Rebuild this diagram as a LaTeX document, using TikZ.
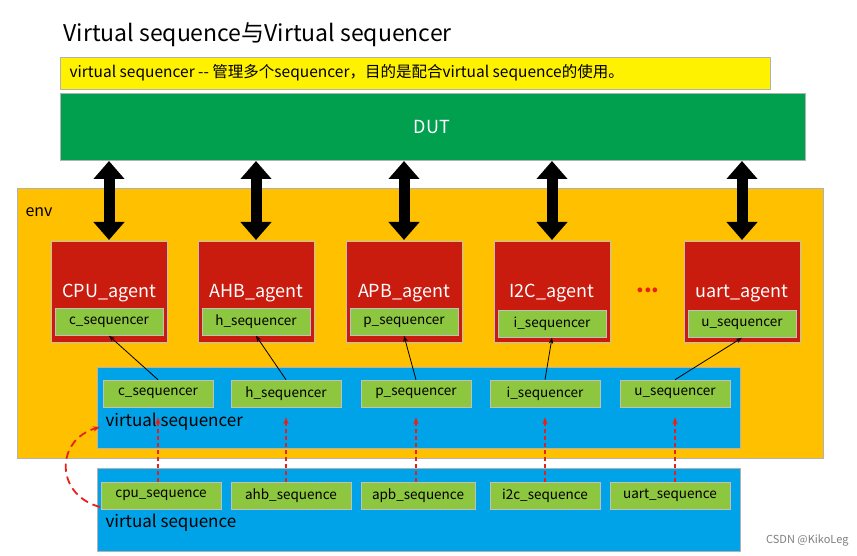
\documentclass[tikz,border=0pt]{standalone}
\usepackage{fontspec}
\setmainfont{Noto Sans CJK SC}
\usetikzlibrary{arrows.meta}
\definecolor{dgreen}{HTML}{00A04E}
\definecolor{org}{HTML}{FFC000}
\definecolor{agred}{HTML}{C91B0E}
\definecolor{lgreen}{HTML}{8DC63F}
\definecolor{sky}{HTML}{00A2E8}
\definecolor{dred}{HTML}{E8201A}
\begin{document}
\begin{tikzpicture}[x=1pt,y=-1pt,
 box/.style={draw=gray!60,line width=0.6pt,inner sep=0pt},
 gbox/.style={fill=lgreen,draw=gray!50,line width=0.6pt,minimum width=110pt,minimum height=27pt,font=\fontsize{13.5}{14}\selectfont,inner sep=0},
 agent/.style={fill=agred,draw=gray!50,line width=0.6pt,minimum width=116pt,minimum height=101pt,inner sep=0},
 alab/.style={text=white,font=\fontsize{18}{19}\selectfont},
 dbl/.style={line width=11pt,{Triangle[width=30pt,length=18pt]}-{Triangle[width=30pt,length=18pt]}},
 sarr/.style={-{Stealth[length=6pt]},line width=0.8pt},
 rarr/.style={-{Stealth[length=7pt]},dred,dash pattern=on 4pt off 3pt,line width=1.2pt}]
\useasboundingbox (0,0) rectangle (857,556);
\fill[white] (0,0) rectangle (857,556);
\node[anchor=west,font=\fontsize{23}{25}\selectfont] (title) at (60,35) {Virtual sequence与Virtual sequencer};
\node[box,fill=yellow,minimum width=710pt,minimum height=32pt,anchor=north west] (note) at (60,57) {};
\node[anchor=west,font=\fontsize{15.5}{16}\selectfont] (notet) at (66,73) {virtual sequencer {-}{-} 管理多个sequencer，目的是配合virtual sequence的使用。};
\node[box,fill=dgreen,minimum width=745pt,minimum height=67pt,anchor=north west] (dut) at (60,93) {};
\node[text=white,font=\fontsize{18}{19}\selectfont] (dutt) at (432,127) {DUT};
\node[box,fill=org,minimum width=806pt,minimum height=270pt,anchor=north west] (env) at (17,188) {};
\node[anchor=west,font=\fontsize{16}{17}\selectfont] (envt) at (22,212) {env};
% agents
\foreach \n/\x/\t/\s/\sy in {cpu/109/CPU\_agent/c\_sequencer/322,ahb/256/AHB\_agent/h\_sequencer/322,apb/404/APB\_agent/p\_sequencer/322,i2c/552/I2C\_agent/i\_sequencer/324,uart/742/uart\_agent/u\_sequencer/324}{
 \node[agent] (\n) at (\x,291.5) {};
 \node[alab] (\n t) at (\x,293) {\t};
 \node[gbox,minimum width=108pt] (\n s) at (\x,\sy) {\s};
 \draw[dbl] (\x,161) -- (\x,240);
}
\node[text=dred,font=\fontsize{22}{22}\selectfont\bfseries] (dots) at (648,290) {...};
% virtual sequencer
\node[box,fill=sky,minimum width=643pt,minimum height=81pt,anchor=north west] (vsr) at (97,367) {};
\node[anchor=west,font=\fontsize{17}{18}\selectfont] (vsrt) at (102,422) {virtual sequencer};
\foreach \n/\x/\t in {c/158/c\_sequencer,h/286/h\_sequencer,p/416/p\_sequencer,i/545/i\_sequencer,u/675/u\_sequencer}{
 \node[gbox] (v\n) at (\x,393.5) {\t};
}
% virtual sequence
\node[box,fill=sky,minimum width=643pt,minimum height=83pt,anchor=north west] (vs) at (97,468) {};
\node[anchor=west,font=\fontsize{17}{18}\selectfont] (vst) at (102,523) {virtual sequence};
\foreach \n/\x/\w/\t in {cpu/161/120/cpu\_sequence,ahb/291/120/ahb\_sequence,apb/418/114/apb\_sequence,i2c/545/110/i2c\_sequence,uart/670/120/uart\_sequence}{
 \node[gbox,minimum width=\w pt] (q\n) at (\x,495.5) {\t};
}
\draw[sarr] (vc.north) -- (cpus.south);
\draw[sarr] (vh.north) -- (ahbs.south);
\draw[sarr] (vp.north) -- (apbs.south);
\draw[sarr] (vi.north) -- (i2cs.south);
\draw[sarr] (vu.north) -- (uarts.south);
\foreach \a/\b in {cpu/c,ahb/h,apb/p,i2c/i,uart/u}{
 \draw[rarr] (q\a.north -| v\b.south) -- ([yshift=-10pt]v\b.south);
}
\coordinate (cs) at (100,507);
\coordinate (ce) at (100,427);
\draw[rarr,line width=1.8pt,dash pattern=on 8pt off 5pt] (cs) .. controls (55,495) and (55,440) .. (ce);
\node[anchor=east,text=gray,font=\fontsize{11}{12}\selectfont] (wm) at (852,540) {CSDN @KikoLeg};
\end{tikzpicture}
\end{document}
